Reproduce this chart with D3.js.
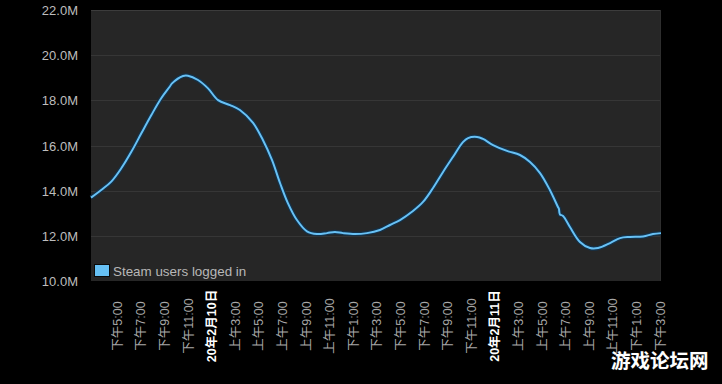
<!DOCTYPE html>
<html><head><meta charset="utf-8">
<script src="https://cdn.jsdelivr.net/npm/d3@7"></script>
<style>
html,body{margin:0;padding:0;background:#000;}
svg{display:block;}
</style></head>
<body>
<svg id="c" width="722" height="384"></svg>
<script>
// ---- data ----
const times = ["2020-02-09 14:48","2020-02-09 15:40","2020-02-09 16:31","2020-02-09 17:22","2020-02-09 18:13","2020-02-09 19:04","2020-02-09 19:55","2020-02-09 20:45","2020-02-09 21:28","2020-02-09 21:40","2020-02-09 22:36","2020-02-09 23:01","2020-02-09 23:52","2020-02-10 00:43","2020-02-10 01:34","2020-02-10 02:35","2020-02-10 03:25","2020-02-10 04:32","2020-02-10 05:22","2020-02-10 06:08","2020-02-10 06:49","2020-02-10 07:29","2020-02-10 08:15","2020-02-10 09:06","2020-02-10 09:57","2020-02-10 10:48","2020-02-10 11:28","2020-02-10 12:09","2020-02-10 13:10","2020-02-10 14:11","2020-02-10 15:17","2020-02-10 16:08","2020-02-10 16:59","2020-02-10 18:05","2020-02-10 18:56","2020-02-10 19:47","2020-02-10 20:38","2020-02-10 21:28","2020-02-10 22:19","2020-02-10 22:45","2020-02-10 23:31","2020-02-11 00:01","2020-02-11 00:52","2020-02-11 02:03","2020-02-11 03:09","2020-02-11 04:00","2020-02-11 04:51","2020-02-11 05:41","2020-02-11 06:22","2020-02-11 06:27","2020-02-11 06:32","2020-02-11 06:48","2020-02-11 07:23","2020-02-11 08:14","2020-02-11 09:05","2020-02-11 09:46","2020-02-11 10:47","2020-02-11 11:38","2020-02-11 12:28","2020-02-11 13:35","2020-02-11 14:25","2020-02-11 15:06"];
const users = [13.69,14.03,14.40,14.99,15.72,16.54,17.35,18.09,18.60,18.75,19.08,19.09,18.90,18.53,18.01,17.79,17.57,17.0,16.24,15.36,14.34,13.45,12.7,12.2,12.08,12.12,12.17,12.12,12.08,12.12,12.26,12.48,12.7,13.1,13.5,14.12,14.83,15.49,16.15,16.33,16.38,16.29,16.02,15.76,15.58,15.27,14.78,14.03,13.28,13.2,12.95,12.88,12.39,11.73,11.46,11.46,11.68,11.9,11.95,11.97,12.08,12.12];
const yTicks = [10,12,14,16,18,20,22];
const xTickTimes = ["2020-02-09 17:00","2020-02-09 19:00","2020-02-09 21:00","2020-02-09 23:00","2020-02-10 01:00","2020-02-10 03:00","2020-02-10 05:00","2020-02-10 07:00","2020-02-10 09:00","2020-02-10 11:00","2020-02-10 13:00","2020-02-10 15:00","2020-02-10 17:00","2020-02-10 19:00","2020-02-10 21:00","2020-02-10 23:00","2020-02-11 01:00","2020-02-11 03:00","2020-02-11 05:00","2020-02-11 07:00","2020-02-11 09:00","2020-02-11 11:00","2020-02-11 13:00","2020-02-11 15:00"];
const xTickLabels = ["下午5:00","下午7:00","下午9:00","下午11:00","20年2月10日","上午3:00","上午5:00","上午7:00","上午9:00","上午11:00","下午1:00","下午3:00","下午5:00","下午7:00","下午9:00","下午11:00","20年2月11日","上午3:00","上午5:00","上午7:00","上午9:00","上午11:00","下午1:00","下午3:00"];
const dateLabels = ["20年2月10日","20年2月11日"];
const seriesName = "Steam users logged in";
const watermark = "游戏论坛网";

// ---- layout ----
const parse = d3.timeParse("%Y-%m-%d %H:%M");
const L = 91, R = 661, T = 10, B = 281;
const font = "'Liberation Sans', Arial, 'Noto Sans CJK SC', sans-serif";
const svg = d3.select("#c");

const x = d3.scaleTime().domain([parse(times[0]), parse(times[times.length-1])]).range([L, R]);
const y = d3.scaleLinear().domain([10, 22]).range([B, T]);

svg.append("rect").attr("x", L).attr("y", T).attr("width", R - L).attr("height", B - T).attr("fill", "#262626");

// grid
svg.append("g").selectAll("line").data(yTicks).join("line")
  .attr("x1", L).attr("x2", R)
  .attr("y1", d => Math.round(y(d)) + 0.5).attr("y2", d => Math.round(y(d)) + 0.5)
  .attr("stroke", d => d === 22 ? "#3c3c3c" : "#363636").attr("stroke-width", 1)
  .attr("display", d => d === 10 ? "none" : null);
svg.append("line").attr("x1", R - 0.5).attr("x2", R - 0.5).attr("y1", T).attr("y2", B)
  .attr("stroke", "#2e2e2e");

// y axis
const yAxis = d3.axisLeft(y).tickValues(yTicks).tickSize(0).tickPadding(0)
  .tickFormat(d => d3.format(".1f")(d) + "M");
const yg = svg.append("g").attr("transform", `translate(${L - 13},0)`).call(yAxis);
yg.select(".domain").remove();
yg.selectAll("text").attr("fill", "#bdbdbd").attr("font-size", 13).attr("font-family", font)
  .attr("dy", "0.35em");

// x axis
const xAxis = d3.axisBottom(x).tickValues(xTickTimes.map(parse)).tickSize(0)
  .tickFormat((d, i) => xTickLabels[i]);
const xg = svg.append("g").attr("transform", `translate(0,${B})`).call(xAxis);
xg.select(".domain").remove();
xg.selectAll("text")
  .attr("font-family", font)
  .attr("text-anchor", "middle")
  .attr("y", 0).attr("dy", "0.35em")
  .attr("transform", "translate(0,45) rotate(-90)")
  .attr("font-size", 12.5)
  .attr("font-weight", function(){ return dateLabels.includes(this.textContent) ? "bold" : "normal"; })
  .attr("fill", function(){ return dateLabels.includes(this.textContent) ? "#ffffff" : "#a8a8a8"; });

// line
const data = times.map((t, i) => ({t: parse(t), v: users[i]}));
const line = d3.line().x(d => x(d.t)).y(d => y(d.v)).curve(d3.curveCatmullRom.alpha(0.5));
svg.append("path").datum(data).attr("d", line).attr("fill", "none")
  .attr("stroke", "#14324a").attr("stroke-width", 4.5).attr("stroke-linejoin", "round");
svg.append("path").datum(data).attr("d", line).attr("fill", "none")
  .attr("stroke", "#67c1f5").attr("stroke-width", 2).attr("stroke-linejoin", "round");

// legend
const lg = svg.append("g");
lg.append("rect").attr("x", 94.5).attr("y", 264.5).attr("width", 15).attr("height", 12)
  .attr("fill", "#66c0f4").attr("stroke", "#0a0a0a").attr("stroke-width", 1);
lg.append("text").attr("x", 113).attr("y", 275.5).text(seriesName)
  .attr("fill", "#b8b8b8").attr("font-size", 13.4).attr("font-family", font);

// watermark
svg.append("text").attr("x", 611).attr("y", 368).text(watermark)
  .attr("fill", "#ffffff").attr("font-size", 19.5).attr("font-weight", "bold")
  .attr("font-family", "'Noto Sans CJK SC', sans-serif")
  .attr("stroke", "#222").attr("stroke-width", 0.6).attr("paint-order", "stroke");
</script>
</body></html>
